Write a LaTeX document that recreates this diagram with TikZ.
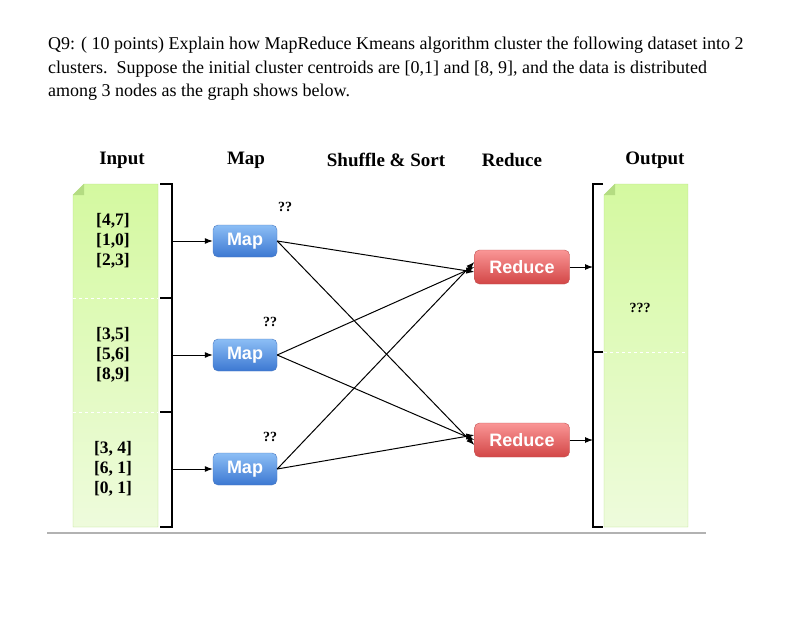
\documentclass[tikz,border=0pt]{standalone}
\usepackage{fontspec}
\setmainfont{Liberation Serif}
\newfontfamily\arialf{Liberation Sans}
\usetikzlibrary{arrows.meta}
\definecolor{gtop}{RGB}{212,249,160}
\definecolor{gbot}{RGB}{238,251,220}
\definecolor{gedge}{RGB}{180,220,130}
\definecolor{btop}{RGB}{140,190,245}
\definecolor{bbot}{RGB}{60,120,210}
\definecolor{rtop}{RGB}{250,150,150}
\definecolor{rbot}{RGB}{210,70,70}
\begin{document}
\begin{tikzpicture}[x=1pt,y=-1pt,
  hdr/.style={font=\bfseries\fontsize{19}{22}\selectfont},
  mapbox/.style={draw=bbot!80!gray,rounded corners=5pt,top color=btop,bottom color=bbot,text=white,font=\arialf\bfseries\fontsize{18}{20}\selectfont,minimum width=64pt,minimum height=32pt,inner sep=0},
  redbox/.style={draw=rbot!80!gray,rounded corners=5pt,top color=rtop,bottom color=rbot,text=white,font=\arialf\bfseries\fontsize{18}{20}\selectfont,minimum width=95pt,minimum height=34pt,inner sep=0},
  arr/.style={-{Latex[length=8pt,width=6pt]},line width=1pt},
  ln/.style={line width=1.2pt},
  data/.style={font=\bfseries\fontsize{17.5}{20}\selectfont,align=center},
  qq/.style={font=\bfseries\fontsize{14}{16}\selectfont}]
\useasboundingbox (0,0) rectangle (804,629);
\node[anchor=west,align=left,font=\fontsize{18}{23.5}\selectfont,inner sep=0] (q) at (48,69) {Q9: ( 10 points) Explain how MapReduce Kmeans algorithm cluster the following dataset into 2\\clusters.\ \ Suppose the initial cluster centroids are [0,1] and [8, 9], and the data is distributed\\among 3 nodes as the graph shows below.};
\node[hdr] (h1) at (122,160) {Input};
\node[hdr] (h2) at (246,160) {Map};
\node[hdr] (h3) at (386,160) {Shuffle \& Sort};
\node[hdr] (h4) at (512,160) {Reduce};
\node[hdr] (h5) at (655,160) {Output};
% input panel
\shade[top color=gtop,bottom color=gbot,draw=gedge] (84,184) -- (158,184) -- (158,527) -- (73,527) -- (73,195) -- cycle;
\fill[gedge] (84,184) -- (73,195) -- (84,195) -- cycle;
\draw[white,dashed] (73,298) -- (158,298) (73,412) -- (158,412);
\shade[top color=gtop,bottom color=gbot,draw=gedge] (615,184) -- (688,184) -- (688,527) -- (604,527) -- (604,195) -- cycle;
\fill[gedge] (615,184) -- (604,195) -- (615,195) -- cycle;
\draw[white,dashed] (604,352) -- (688,352);
% brackets
\draw[ln] (160,184) -- (172,184) -- (172,527) -- (160,527);
\draw[ln] (160,298) -- (172,298) (160,412) -- (172,412);
\draw[ln] (603,184) -- (593,184) -- (593,527) -- (603,527);
\draw[ln] (603,352) -- (593,352);
\coordinate (b1) at (172,241); \coordinate (b2) at (172,355); \coordinate (b3) at (172,469);
\coordinate (o1) at (593,267); \coordinate (o2) at (593,440);
\node[data] (d1) at (113,241) {[4,7]\\{}[1,0]\\{}[2,3]};
\node[data] (d2) at (113,355) {[3,5]\\{}[5,6]\\{}[8,9]};
\node[data] (d3) at (113,469) {[3, 4]\\{}[6, 1]\\{}[0, 1]};
\node[qq] (out) at (640,308) {???};
\node[mapbox] (m1) at (245,241) {Map};
\node[mapbox] (m2) at (245,355) {Map};
\node[mapbox] (m3) at (245,469) {Map};
\node[redbox] (r1) at (522,267) {Reduce};
\node[redbox] (r2) at (522,440) {Reduce};
\node[qq] (q1) at (285,207) {??};
\node[qq] (q2) at (270,322) {??};
\node[qq] (q3) at (270,437) {??};
\draw[arr] (b1) -- (m1.west);
\draw[arr] (b2) -- (m2.west);
\draw[arr] (b3) -- (m3.west);
\draw[arr] (r1.east) -- (o1);
\draw[arr] (r2.east) -- (o2);
\draw[arr] (m1.east) -- ([yshift=-5pt]r1.west);
\draw[arr] (m2.east) -- (r1.west);
\draw[arr] (m3.east) -- ([yshift=5pt]r1.west);
\draw[arr] (m1.east) -- ([yshift=-5pt]r2.west);
\draw[arr] (m2.east) -- (r2.west);
\draw[arr] (m3.east) -- ([yshift=5pt]r2.west);
\draw[gray!60,line width=1.2pt] (47,533) -- (706,533);
\end{tikzpicture}
\end{document}
